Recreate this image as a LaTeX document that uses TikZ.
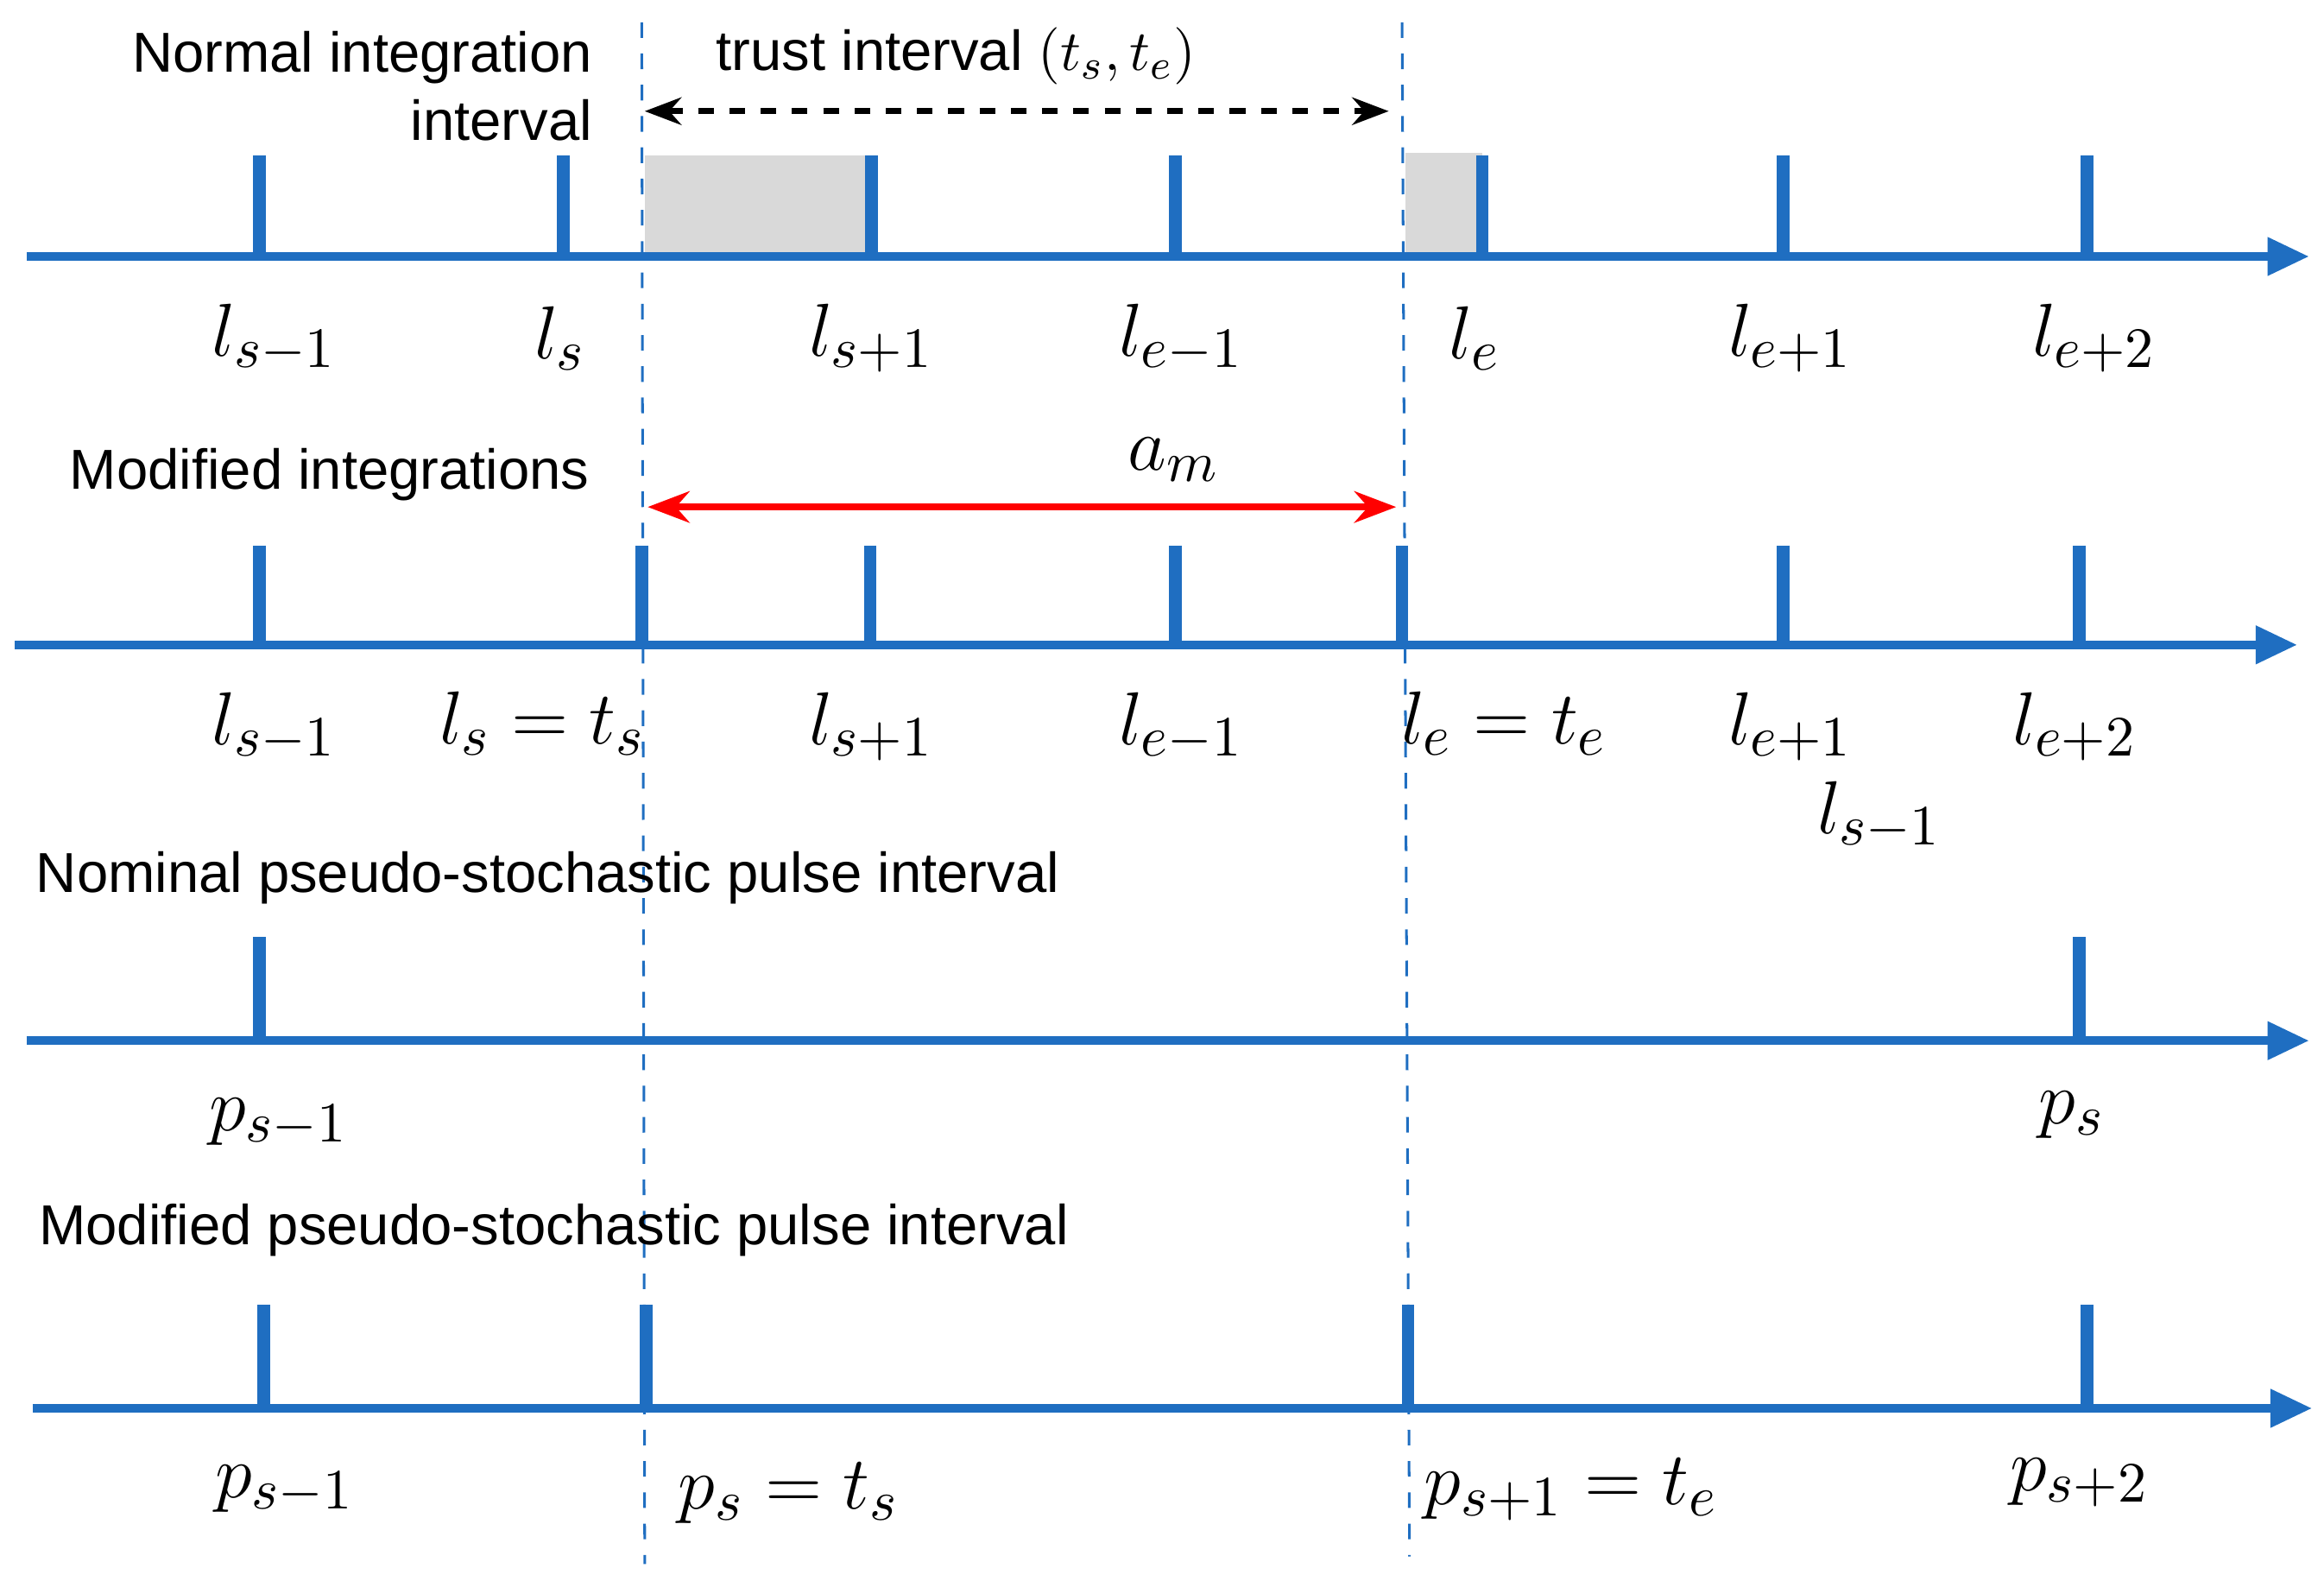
\documentclass[tikz,border=0pt]{standalone}
\usepackage{fontspec}
\setmainfont{Liberation Sans}
\usetikzlibrary{arrows.meta}
\definecolor{ax}{RGB}{31,110,193}
\begin{document}
\begin{tikzpicture}[x=0.01cm,y=-0.01cm,
 axis/.style={ax,line width=1.7pt,-{Triangle[length=8pt,width=7pt]}},
 tick/.style={ax,line width=2.4pt},
 lab/.style={font=\fontsize{15}{18}\selectfont},
 txt/.style={font=\fontsize{10.8}{13}\selectfont},
 vline/.style={ax,dashed,line width=0.5pt}]
\useasboundingbox (0,0) rectangle (1568,1066);
% gray areas
\fill[gray!30] (435,105) rectangle (588,170);
\fill[gray!30] (948,103) rectangle (1000,170);
% dashed verticals
\coordinate (v1a) at (433,15); \coordinate (v1b) at (435,1055);
\coordinate (v2a) at (946,15); \coordinate (v2b) at (951,1050);
\draw[vline] (v1a) -- (v1b);
\draw[vline] (v2a) -- (v2b);
% Row 1
\coordinate (a1s) at (18,173); \coordinate (a1e) at (1558,173);
\draw[axis] (a1s) -- (a1e);
\foreach \x in {175,380,588,793,1000,1203,1408} \draw[tick] (\x,105) -- (\x,173);
\node[lab] (r1a) at (185,228) {$l_{s-1}$};
\node[lab] (r1b) at (378,228) {$l_{s}$};
\node[lab] (r1c) at (588,228) {$l_{s+1}$};
\node[lab] (r1d) at (797,228) {$l_{e-1}$};
\node[lab] (r1e) at (995,228) {$l_{e}$};
\node[lab] (r1f) at (1208,228) {$l_{e+1}$};
\node[lab] (r1g) at (1413,228) {$l_{e+2}$};
\node[txt,align=right,anchor=east] (t1) at (412,58) {Normal integration\\interval};
\node[txt] (t2) at (645,38) {trust interval $(t_s,t_e)$};
\coordinate (d1) at (435,75); \coordinate (d2) at (937,75);
\draw[dashed,line width=1.2pt,{Stealth[length=7pt]}-{Stealth[length=7pt]}] (d1) -- (d2);
% Row 2
\coordinate (a2s) at (10,435); \coordinate (a2e) at (1550,435);
\draw[axis] (a2s) -- (a2e);
\foreach \x in {175,433,587,793,946,1203,1403} \draw[tick] (\x,368) -- (\x,435);
\node[txt,anchor=east] (t3) at (410,320) {Modified integrations};
\coordinate (r1) at (437,342); \coordinate (r2) at (942,342);
\draw[red,line width=1.4pt,{Stealth[length=8pt]}-{Stealth[length=8pt]}] (r1) -- (r2);
\node[lab] (am) at (792,310) {$a_m$};
\node[lab] (r2a) at (185,490) {$l_{s-1}$};
\node[lab] (r2b) at (366,488) {$l_{s}=t_s$};
\node[lab] (r2c) at (588,490) {$l_{s+1}$};
\node[lab] (r2d) at (797,490) {$l_{e-1}$};
\node[lab] (r2e) at (1015,488) {$l_{e}=t_e$};
\node[lab] (r2f) at (1208,490) {$l_{e+1}$};
\node[lab] (r2g) at (1400,490) {$l_{e+2}$};
\node[lab] (r2h) at (1268,550) {$l_{s-1}$};
% Row 3
\node[txt,anchor=west] (t4) at (12,592) {Nominal pseudo-stochastic pulse interval};
\coordinate (a3s) at (18,702); \coordinate (a3e) at (1558,702);
\draw[axis] (a3s) -- (a3e);
\foreach \x in {175,1403} \draw[tick] (\x,632) -- (\x,702);
\node[lab] (p3a) at (188,757) {$p_{s-1}$};
\node[lab] (p3b) at (1398,752) {$p_{s}$};
% Row 4
\node[txt,anchor=west] (t5) at (14,830) {Modified pseudo-stochastic pulse interval};
\coordinate (a4s) at (22,950); \coordinate (a4e) at (1560,950);
\draw[axis] (a4s) -- (a4e);
\foreach \x in {178,436,950,1408} \draw[tick] (\x,880) -- (\x,950);
\node[lab] (p4a) at (192,1005) {$p_{s-1}$};
\node[lab] (p4b) at (532,1007) {$p_{s}=t_s$};
\node[lab] (p4c) at (1060,1005) {$p_{s+1}=t_e$};
\node[lab] (p4d) at (1403,1000) {$p_{s+2}$};
\end{tikzpicture}
\end{document}
